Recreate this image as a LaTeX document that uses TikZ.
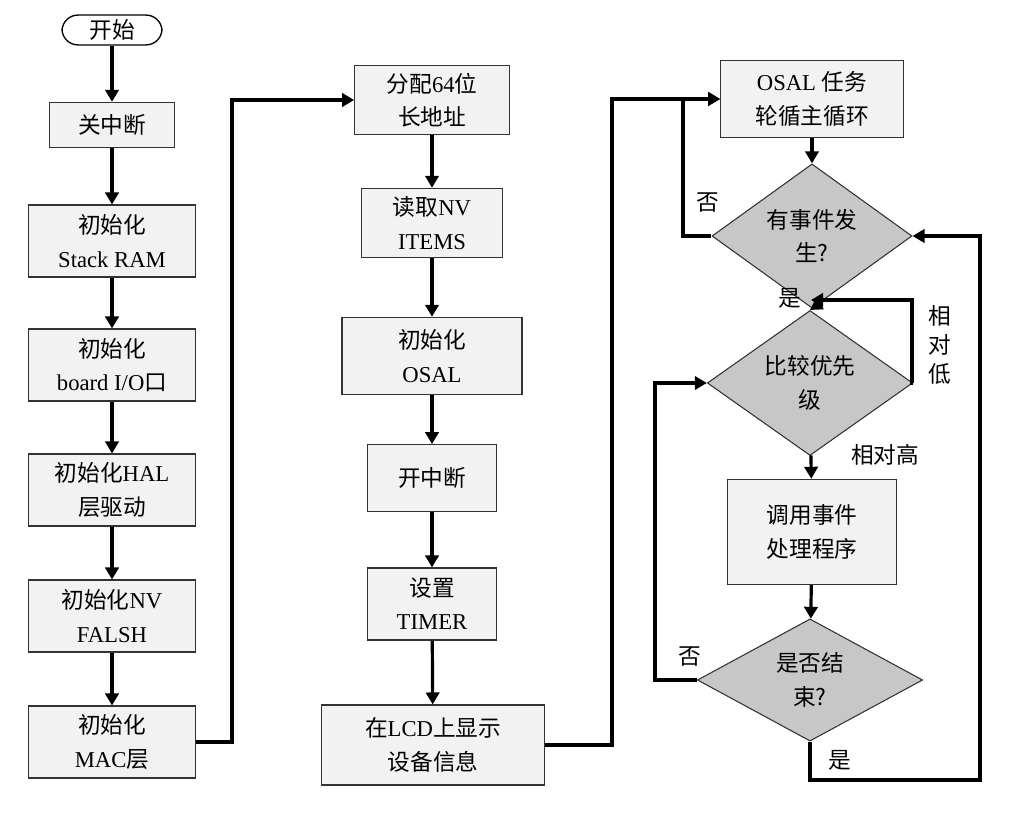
\documentclass[tikz,border=0pt]{standalone}
\usepackage{fontspec}
\setmainfont{Liberation Serif}
\newfontfamily\cjk{Noto Sans CJK SC}
\usetikzlibrary{shapes.geometric,arrows.meta}
\begin{document}
\begin{tikzpicture}[x=0.75pt,y=-0.75pt,
  box/.style={draw=black!80,line width=0.8pt,fill=black!5,align=center,inner sep=1pt,font=\fontsize{17}{25}\selectfont},
  dia/.style={diamond,draw=black!80,line width=0.8pt,fill=black!22,align=center,inner sep=0pt,font=\fontsize{17}{25}\selectfont},
  term/.style={rounded corners=12pt,draw=black,line width=1pt,fill=white,font=\fontsize{17}{22}\selectfont\cjk},
  arr/.style={-{Triangle[length=9pt,width=10pt]},line width=2.4pt},
  lab/.style={font=\fontsize{17}{22}\selectfont\cjk}]
\useasboundingbox (0,0) rectangle (1029,824);
% column 1
\node[term,minimum width=75pt,minimum height=22pt] (s) at (112,30) {开始};
\node[box,minimum width=94pt,minimum height=34pt] (a1) at (112,125) {\cjk 关中断};
\node[box,minimum width=125pt,minimum height=54pt] (a2) at (112,241) {{\cjk 初始化}\\Stack RAM};
\node[box,minimum width=125pt,minimum height=54pt] (a3) at (112,365) {{\cjk 初始化}\\board I/O{\cjk 口}};
\node[box,minimum width=125pt,minimum height=54pt] (a4) at (112,490) {{\cjk 初始化}HAL\\{\cjk 层驱动}};
\node[box,minimum width=125pt,minimum height=54pt] (a5) at (112,616) {{\cjk 初始化}NV\\FALSH};
\node[box,minimum width=125pt,minimum height=54pt] (a6) at (112,742) {{\cjk 初始化}\\MAC{\cjk 层}};
% column 2
\node[box,minimum width=116pt,minimum height=52pt] (b1) at (432,100) {{\cjk 分配}64{\cjk 位}\\{\cjk 长地址}};
\node[box,minimum width=106pt,minimum height=52pt] (b2) at (432,223) {{\cjk 读取}NV\\ITEMS};
\node[box,minimum width=135pt,minimum height=58pt] (b3) at (432,356) {{\cjk 初始化}\\OSAL};
\node[box,minimum width=97pt,minimum height=50pt] (b4) at (432,478) {\cjk 开中断};
\node[box,minimum width=97pt,minimum height=54pt] (b5) at (432,604) {{\cjk 设置}\\TIMER};
\node[box,minimum width=167pt,minimum height=60pt] (b6) at (433,745) {{\cjk 在}LCD{\cjk 上显示}\\{\cjk 设备信息}};
% column 3
\node[box,minimum width=137pt,minimum height=58pt] (c1) at (812,99) {OSAL {\cjk 任务}\\{\cjk 轮循主循环}};
\node[dia,minimum width=150pt,minimum height=79pt] (d1) at (812,236) {\cjk 有事件发\\\cjk 生?};
\node[dia,minimum width=154pt,minimum height=80pt] (d2) at (810,383) {\cjk 比较优先\\\cjk 级};
\node[box,minimum width=127pt,minimum height=79pt] (c2) at (812,532) {\cjk 调用事件\\\cjk 处理程序};
\node[dia,minimum width=169pt,minimum height=88pt] (d3) at (810,680) {\cjk 是否结\\\cjk 束?};
\coordinate (j0) at (683,99);
\coordinate (j1) at (811,300);
% arrows
\draw[arr] (s) -- (a1);
\draw[arr] (a1) -- (a2);
\draw[arr] (a2) -- (a3);
\draw[arr] (a3) -- (a4);
\draw[arr] (a4) -- (a5);
\draw[arr] (a5) -- (a6);
\draw[arr] (a6.east) -- (232,742) |- (b1.west);
\draw[arr] (b1) -- (b2);
\draw[arr] (b2) -- (b3);
\draw[arr] (b3) -- (b4);
\draw[arr] (b4) -- (b5);
\draw[arr] (b5) -- (b6);
\draw[arr] (b6.east) -- (612,745) |- (c1.west);
\draw[arr] (c1) -- (d1);
\draw[arr] (d1.west) -| (j0) -- (c1.west);
\draw[arr] (d1.south) -- (d2.north);
\draw[arr] (d2.east) -- (912,383) -- (912,300) -- (j1);
\draw[arr] (d2) -- (c2);
\draw[arr] (c2) -- (d3);
\draw[arr] (d3.west) -- (655,680) |- (d2.west);
\draw[arr] (d3.south) -- (810,780) -- (980,780) |- (d1.east);
% labels
\node[lab] (l1) at (708,203) {否};
\node[lab] (l2) at (790,298) {是};
\node[lab,align=center] (l3) at (940,345) {相\\对\\低};
\node[lab] (l4) at (885,455) {相对高};
\node[lab] (l5) at (690,657) {否};
\node[lab] (l6) at (840,760) {是};
\end{tikzpicture}
\end{document}
